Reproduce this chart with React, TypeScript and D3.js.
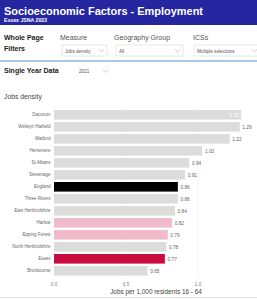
import React from "react";
import * as d3 from "d3";

const categories = [
  "Dacorum",
  "Welwyn Hatfield",
  "Watford",
  "Hertsmere",
  "St Albans",
  "Stevenage",
  "England",
  "Three Rivers",
  "East Hertfordshire",
  "Harlow",
  "Epping Forest",
  "North Hertfordshire",
  "Essex",
  "Broxbourne",
];
const values = [1.3, 1.29, 1.22, 1.03, 0.94, 0.91, 0.86, 0.86, 0.84, 0.82, 0.79, 0.78, 0.77, 0.65];
const highlight: Record<string, string> = {
  England: "#000000",
  Harlow: "#f0bccb",
  "Epping Forest": "#f0bccb",
  Essex: "#c90d40",
};
const xTicks = [0, 0.5, 1.0];

const FONT = "'Liberation Sans', Arial, sans-serif";

export default function App() {
  const W = 257;
  const H = 300;
  const x = d3.scaleLinear().domain([0, 1]).range([54, 198]);
  const y = d3
    .scaleBand<string>()
    .domain(categories)
    .range([108.8, 108.8 + categories.length * 12])
    .paddingInner(0.2)
    .paddingOuter(0.1);
  const bw = y.bandwidth();

  const dropdown = (bx: number, by: number, w: number, label: string) => (
    <g>
      <rect x={bx} y={by} width={w} height={11} fill="#fff" stroke="#d8d8d8" strokeWidth={0.6} />
      <text x={bx + 3} y={by + 7.6} fontSize={4.6} fill="#555" fontFamily={FONT}>
        {label}
      </text>
      <path
        d={`M${bx + w - 8},${by + 4.5} L${bx + w - 5.5},${by + 6.8} L${bx + w - 3},${by + 4.5}`}
        fill="none"
        stroke="#999"
        strokeWidth={0.5}
      />
    </g>
  );

  return (
    <svg
      width={W}
      height={H}
      style={{ position: "absolute", left: 0, top: 0, background: "#fff" }}
      fontFamily={FONT}
    >
      {/* header */}
      <rect x={0} y={0} width={W} height={25} fill="#2626a0" />
      <text x={4} y={15} fontSize={11.5} fontWeight="bold" fill="#fff" textLength={199} lengthAdjust="spacingAndGlyphs">
        Socioeconomic Factors - Employment
      </text>
      <text x={4} y={22} fontSize={5.2} fontWeight="bold" fill="#fff">
        Essex JSNA 2022
      </text>

      {/* filters */}
      <text x={4} y={40} fontSize={7} fontWeight="bold" fill="#222">Whole Page</text>
      <text x={4} y={51} fontSize={7} fontWeight="bold" fill="#222">Filters</text>
      <text x={60} y={40} fontSize={7} fill="#555">Measure</text>
      <text x={114} y={40} fontSize={7} fill="#555">Geography Group</text>
      <text x={193} y={40} fontSize={7} fill="#555">ICSs</text>
      {dropdown(62, 45, 45, "Jobs density")}
      {dropdown(116, 45, 67, "All")}
      {dropdown(194, 45, 66, "Multiple selections")}
      <line x1={0} x2={W} y1={61} y2={61} stroke="#8fb6dc" strokeWidth={1.4} />

      <text x={4} y={72.5} fontSize={7} fontWeight="bold" fill="#222">Single Year Data</text>
      <g>
        <text x={79} y={73} fontSize={4.6} fill="#555">2021</text>
        <path d="M103,70 L105.5,72.3 L108,70" fill="none" stroke="#999" strokeWidth={0.5} />
      </g>

      <text x={4} y={99} fontSize={6.8} fill="#444">Jobs density</text>

      {/* gridlines */}
      {xTicks.slice(1).map((t) => (
        <line key={t} x1={x(t)} x2={x(t)} y1={106} y2={279} stroke="#ececec" strokeWidth={0.6} />
      ))}

      {/* bars */}
      {categories.map((c, i) => {
        const v = values[i];
        const by = y(c)!;
        const fill = highlight[c] ?? "#dcdcdc";
        const inside = i === 0;
        return (
          <g key={c}>
            <text
              x={50.5}
              y={by + bw / 2 + 1.6}
              textAnchor="end"
              fontSize={4.5}
              fill="#666"
            >
              {c}
            </text>
            <rect x={x(0)} y={by} width={x(v) - x(0)} height={bw} fill={fill} />
            <text
              x={inside ? x(v) - 2 : x(v) + 2.6}
              y={by + bw / 2 + 1.7}
              textAnchor={inside ? "end" : "start"}
              fontSize={4.8}
              fill={inside ? "#fff" : "#666"}
            >
              {v.toFixed(2)}
            </text>
          </g>
        );
      })}

      {/* x axis ticks */}
      {xTicks.map((t) => (
        <text key={t} x={x(t)} y={286} textAnchor="middle" fontSize={4.6} fill="#777">
          {t.toFixed(1)}
        </text>
      ))}
      <text x={156} y={294} textAnchor="middle" fontSize={6.4} fill="#444">
        Jobs per 1,000 residents 16 - 64
      </text>
      <line x1={0} x2={W} y1={297.5} y2={297.5} stroke="#e4e4e4" strokeWidth={1} />
    </svg>
  );
}
